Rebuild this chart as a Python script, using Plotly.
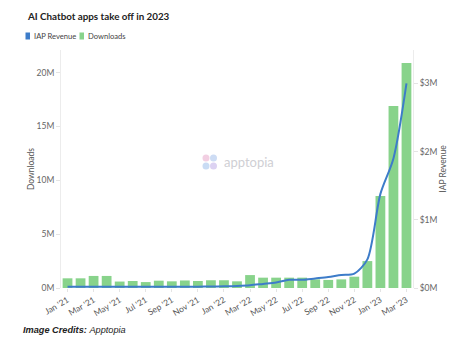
import plotly.graph_objects as go

months = ["Jan '21", "Feb '21", "Mar '21", "Apr '21", "May '21", "Jun '21", "Jul '21", "Aug '21",
          "Sep '21", "Oct '21", "Nov '21", "Dec '21", "Jan '22", "Feb '22", "Mar '22", "Apr '22",
          "May '22", "Jun '22", "Jul '22", "Aug '22", "Sep '22", "Oct '22", "Nov '22", "Dec '22",
          "Jan '23", "Feb '23", "Mar '23"]
downloads = [0.9e6, 0.9e6, 1.12e6, 1.12e6, 0.6e6, 0.65e6, 0.55e6, 0.68e6, 0.62e6, 0.7e6, 0.65e6, 0.72e6,
             0.72e6, 0.62e6, 1.2e6, 0.96e6, 0.96e6, 0.96e6, 0.96e6, 0.8e6, 0.75e6, 0.8e6, 1.05e6, 2.5e6,
             8.55e6, 16.9e6, 20.9e6]
iap_revenue = [0.02e6, 0.02e6, 0.02e6, 0.02e6, 0.02e6, 0.02e6, 0.02e6, 0.02e6, 0.02e6, 0.02e6, 0.02e6, 0.022e6,
               0.025e6, 0.03e6, 0.04e6, 0.06e6, 0.08e6, 0.12e6, 0.12e6, 0.14e6, 0.16e6, 0.19e6, 0.21e6, 0.42e6,
               1.38e6, 1.9e6, 3.0e6]
left_ticks = [0, 5e6, 10e6, 15e6, 20e6]
left_labels = ["0M", "5M", "10M", "15M", "20M"]
right_ticks = [0, 1e6, 2e6, 3e6]
right_labels = ["$0M", "$1M", "$2M", "$3M"]
x_tick_labels = months[::2]

GREEN = "#88d38b"
BLUE = "#3d7cc9"
FONT = "Lato"

W, H = 474, 351
L, R, T, B = 61, 61, 50, 63
PW, PH = W - L - R, H - T - B


def px(x):
    return (x - L) / PW


def py(y):
    return (H - B - y) / PH


fig = go.Figure()
fig.add_trace(go.Bar(x=months, y=downloads, marker_color=GREEN, marker_line_width=0,
                     name="Downloads", yaxis="y", showlegend=False))
fig.add_trace(go.Scatter(x=months, y=iap_revenue, mode="lines", line=dict(color=BLUE, width=2, shape="spline", smoothing=0.8),
                         name="IAP Revenue", yaxis="y2", showlegend=False))

axis_common = dict(showgrid=False, zeroline=False, ticks="outside", ticklen=4, tickcolor="#e4e4e4",
                   tickfont=dict(family=FONT, size=8.5, color="#666"), showline=True, linecolor="#ececec", linewidth=1)

fig.update_layout(
    width=W, height=H,
    margin=dict(l=L, r=R, t=T, b=B),
    paper_bgcolor="white", plot_bgcolor="white",
    bargap=0.25,
    font=dict(family=FONT, color="#555"),
    xaxis=dict(type="category", range=[-0.5, len(months) - 0.5], tickmode="array",
               tickvals=x_tick_labels, ticktext=x_tick_labels, tickangle=-30,
               showgrid=False, zeroline=False, showline=False, ticks="outside", ticklen=3, tickcolor="#e4e4e4",
               tickfont=dict(family=FONT, size=8.5, color="#555")),
    yaxis=dict(range=[0, 22.1e6], tickvals=left_ticks, ticktext=left_labels,
               title=dict(text="Downloads", font=dict(family=FONT, size=8.5, color="#555"), standoff=0),
               **axis_common),
    yaxis2=dict(range=[0, 3.49e6], tickvals=right_ticks, ticktext=right_labels, overlaying="y", side="right",
                title=dict(text="IAP Revenue", font=dict(family=FONT, size=8.5, color="#555"), standoff=2),
                **axis_common),
    showlegend=False,
)

annotations = [
    dict(text="<b>AI Chatbot apps take off in 2023</b>", x=px(25), y=py(16), xref="paper", yref="paper",
         xanchor="left", yanchor="middle", showarrow=False, font=dict(family=FONT, size=9.8, color="#222")),
    dict(text="IAP Revenue", x=px(31.5), y=py(36), xref="paper", yref="paper",
         xanchor="left", yanchor="middle", showarrow=False, font=dict(family=FONT, size=7.6, color="#444")),
    dict(text="Downloads", x=px(85.5), y=py(36), xref="paper", yref="paper",
         xanchor="left", yanchor="middle", showarrow=False, font=dict(family=FONT, size=7.6, color="#444")),
    dict(text="apptopia", x=px(222), y=py(162), xref="paper", yref="paper",
         xanchor="left", yanchor="middle", showarrow=False, font=dict(family=FONT, size=13, color="#cfcfd4")),
    dict(text="<b><i>Image Credits:</i></b> <i>Apptopia</i>", x=px(21), y=py(330), xref="paper", yref="paper",
         xanchor="left", yanchor="middle", showarrow=False, font=dict(family="Liberation Sans", size=9.2, color="#222")),
]
fig.update_layout(annotations=annotations)

shapes = [
    dict(type="rect", xref="paper", yref="paper", x0=px(25.5), x1=px(30), y0=py(39.5), y1=py(32.5),
         fillcolor=BLUE, line_width=0),
    dict(type="rect", xref="paper", yref="paper", x0=px(79.5), x1=px(84), y0=py(39.5), y1=py(32.5),
         fillcolor=GREEN, line_width=0),
]
for cx, cy, col in [(206, 158, "#f2cfe2"), (213.5, 158, "#cddcf4"), (206, 166, "#c9dcf4"), (213.5, 166, "#dcd2f2")]:
    shapes.append(dict(type="circle", xref="paper", yref="paper", xsizemode="pixel", ysizemode="pixel",
                       xanchor=px(cx), yanchor=py(cy), x0=-3.5, x1=3.5, y0=-3.5, y1=3.5,
                       fillcolor=col, line_width=0, layer="below"))
fig.update_layout(shapes=shapes)

fig.write_html("out.html")
